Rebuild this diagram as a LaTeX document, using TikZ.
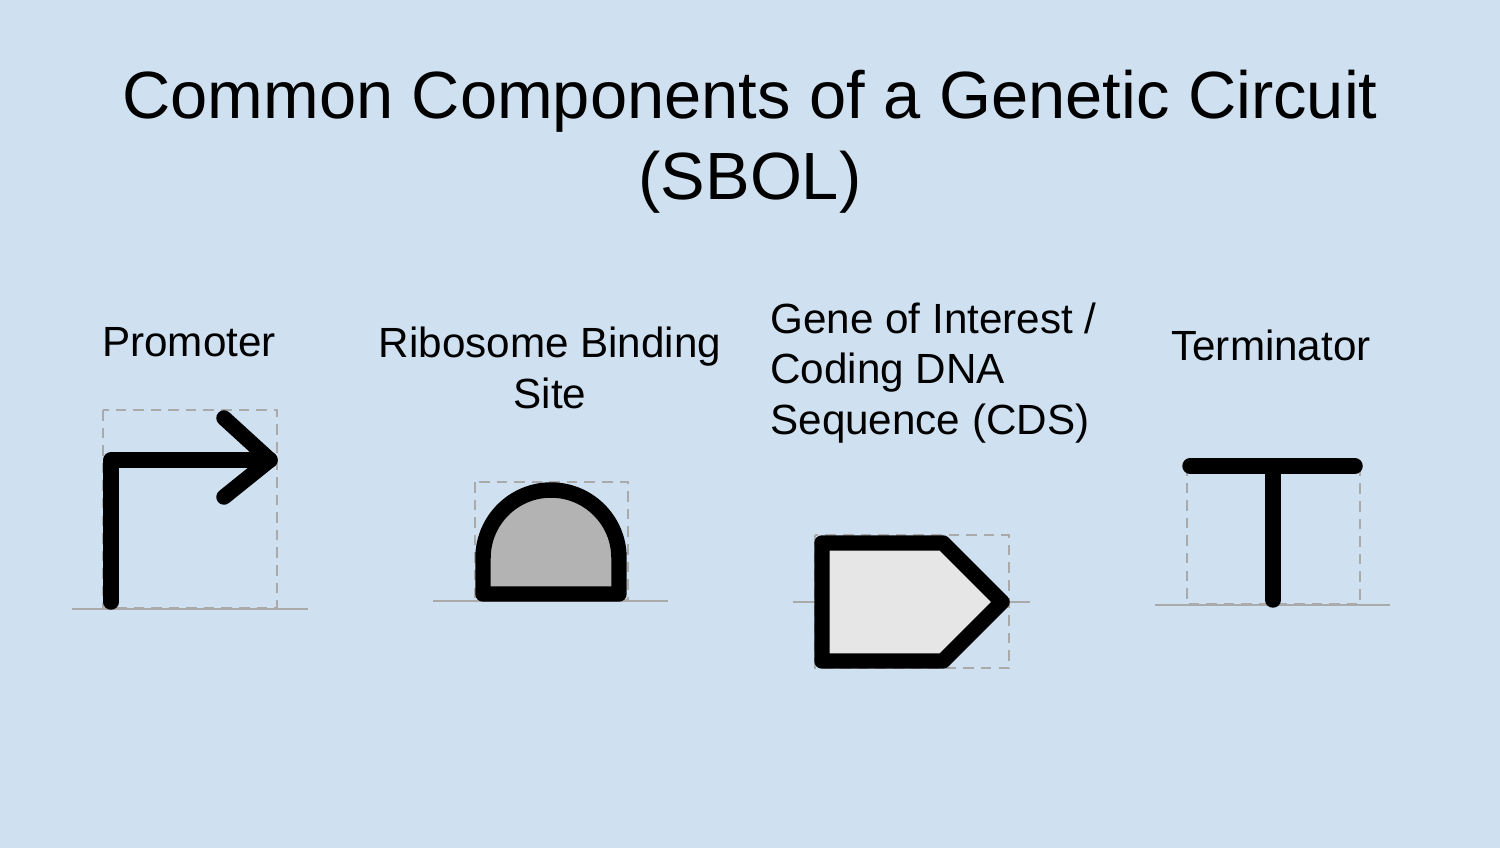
\documentclass[tikz,border=0pt]{standalone}
\usepackage{fontspec}
\setmainfont{Liberation Sans}
\definecolor{slidebg}{HTML}{CFE0F0}
\definecolor{rbsgray}{HTML}{B3B3B3}
\definecolor{cdsgray}{HTML}{E6E6E6}
\definecolor{guidegray}{HTML}{AAAAAA}
\usetikzlibrary{calc}
\begin{document}
\begin{tikzpicture}[x = 0.01cm, y = -0.01cm,
  glyph/.style = {black, line width = 4.4pt, line cap = round, line join = round},
  guide/.style = {guidegray, densely dashed, line width = 0.5pt},
  baseline/.style = {guidegray, line width = 0.6pt},
  label/.style = {font = \fontsize{12}{14.4}\selectfont}]

\fill[slidebg] (0, 0) rectangle (1500, 848);
\useasboundingbox (0, 0) rectangle (1500, 848);

\node (title) at (750, 101) {\fontsize{19}{22}\selectfont Common Components of a Genetic Circuit};
\node (sbol) at (750, 182) {\fontsize{19}{22}\selectfont (SBOL)};

% promoter
\draw[guide] (103, 410) rectangle (277, 608);
\draw[baseline] (72, 609) -- (308, 609);
\draw[glyph] (111, 602) -- (111, 460) -- (270, 460);
\draw[glyph] (224, 418) -- (270, 460) -- (224, 497);
\node[label] (promoter) at (189, 342) {Promoter};

% ribosome binding site
\draw[guide] (475, 482) rectangle (628, 600);
\draw[baseline] (433, 601) -- (668, 601);
\draw[glyph, fill = rbsgray] (483, 594) -- (483, 558) arc[start angle = 180, end angle = 360, radius = 68] -- (619, 594) -- cycle;
\node[label, align = center] (rbs) at (550, 368) {Ribosome Binding\\Site};

% coding sequence
\draw[guide] (815, 535) rectangle (1009, 668);
\draw[baseline] (793, 602) -- (1030, 602);
\draw[glyph, fill = cdsgray] (822, 543) -- (943, 543) -- (1002, 602) -- (943, 661) -- (822, 661) -- cycle;
\node[label, align = left, anchor = west] (cds) at (758, 373) {Gene of Interest /\\Coding DNA\\Sequence (CDS)};

% terminator
\draw[guide] (1187, 465) rectangle (1360, 604);
\draw[baseline] (1155, 605) -- (1390, 605);
\draw[glyph] (1190, 466) -- (1355, 466);
\draw[glyph] (1273, 466) -- (1273, 600);
\node[label] (terminator) at (1271, 345) {Terminator};

\end{tikzpicture}
\end{document}
